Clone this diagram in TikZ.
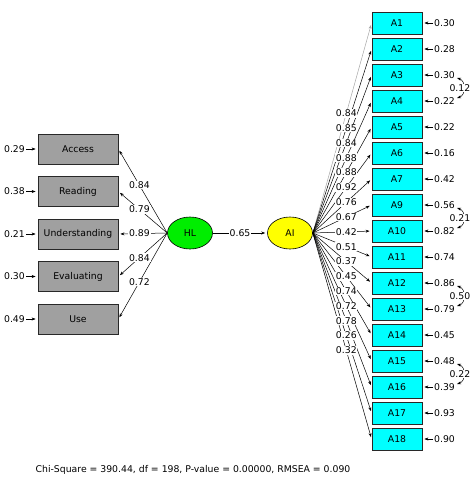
\documentclass[tikz,border=0pt]{standalone}
\usepackage{fontspec}
\setmainfont{DejaVu Sans}
\usetikzlibrary{arrows.meta,shapes.geometric}
\definecolor{boxgray}{RGB}{160,160,160}
\definecolor{boxcyan}{RGB}{0,255,255}
\definecolor{hlgreen}{RGB}{0,238,0}
\definecolor{aiyellow}{RGB}{255,255,0}
\definecolor{edge}{RGB}{40,40,40}
\tikzset{
  lbox/.style={draw=edge, line width=0.8pt, fill=boxgray, minimum width=80pt, minimum height=30pt, inner sep=0pt},
  rbox/.style={draw=edge, line width=0.8pt, fill=boxcyan, minimum width=50pt, minimum height=22pt, inner sep=0pt},
  lat/.style={ellipse, draw=black, line width=0.6pt, minimum width=45pt, minimum height=32pt, inner sep=0pt},
  errval/.style={inner sep=1pt},
  lab/.style={fill=white, inner sep=0.8pt},
  arr/.style={line width=0.5pt, -{Stealth[length=4pt,width=3pt]}, shorten >=2pt},
  cov/.style={line width=0.5pt, {Stealth[length=4pt,width=3pt]}-{Stealth[length=4pt,width=3pt]}}
}
\begin{document}
\begin{tikzpicture}[x=1pt,y=-1pt,font=\fontsize{9.3}{11}\selectfont]
\useasboundingbox (0,0) rectangle (474,483);
% left indicators
\foreach \nm/\txt/\e/\l [count=\i from 0] in {acc/Access/0.29/0.84, rea/Reading/0.38/0.79, und/Understanding/0.21/0.89, eva/Evaluating/0.30/0.84, use/Use/0.49/0.72}{
  \node[lbox] (\nm) at (78,{149+42.5*\i}) {\txt};
  \node[errval, anchor=east] (e\nm) at (26,{149+42.5*\i}) {\e};
  \draw[arr] (e\nm) -- (\nm);
}
\node[lat, fill=hlgreen] (HL) at (190,233) {HL};
\node[lat, fill=aiyellow] (AI) at (290,233) {AI};
\foreach \nm/\l in {acc/0.84, rea/0.79, und/0.89, eva/0.84, use/0.72}{
  \draw[arr] (HL.west) -- (\nm.east);
}
\foreach \nm/\l in {acc/0.84, rea/0.79, und/0.89, eva/0.84, use/0.72}{
  \path (HL.west) -- node[lab, pos=0.57] {\l} (\nm.east);
}
\draw[arr] (HL.east) -- node[lab] {0.65} (AI.west);
% right indicators
\foreach \nm/\e/\l/\c [count=\i from 0] in {A1/0.30/0.84/black!35, A2/0.28/0.85/black, A3/0.30/0.84/black, A4/0.22/0.88/black, A5/0.22/0.88/black, A6/0.16/0.92/black, A7/0.42/0.76/black, A9/0.56/0.67/black, A10/0.82/0.42/black, A11/0.74/0.51/black, A12/0.86/0.37/black, A13/0.79/0.45/black, A14/0.45/0.74/black, A15/0.48/0.72/black, A16/0.39/0.78/black, A17/0.93/0.26/black, A18/0.90/0.32/black}{
  \node[rbox] (\nm) at (397,{23+26*\i}) {\nm};
  \node[errval, anchor=west] (e\nm) at (433,{23+26*\i}) {\e};
  \draw[arr] (e\nm) -- (\nm);
  \draw[arr, draw=\c] (AI.east) -- (\nm.west);
}
\foreach \nm/\l in {A1/0.84, A2/0.85, A3/0.84, A4/0.88, A5/0.88, A6/0.92, A7/0.76, A9/0.67, A10/0.42, A11/0.51, A12/0.37, A13/0.45, A14/0.74, A15/0.72, A16/0.78, A17/0.26, A18/0.32}{
  \path (AI.east) -- node[lab, pos=0.57] {\l} (\nm.west);
}
% covariances
\foreach \a/\b/\v in {A3/A4/0.12, A9/A10/0.21, A12/A13/0.50, A15/A16/0.22}{
  \draw[cov] ([xshift=1pt,yshift=-3pt]e\a.east) .. controls +(9,3) and +(9,-3) .. ([xshift=1pt,yshift=3pt]e\b.east)
     node[midway, xshift=-4pt, fill=white, inner sep=0.8pt] {\v};
}
\node (fit) at (193,470) {Chi-Square = 390.44, df = 198, P-value = 0.00000, RMSEA = 0.090};
\end{tikzpicture}
\end{document}
